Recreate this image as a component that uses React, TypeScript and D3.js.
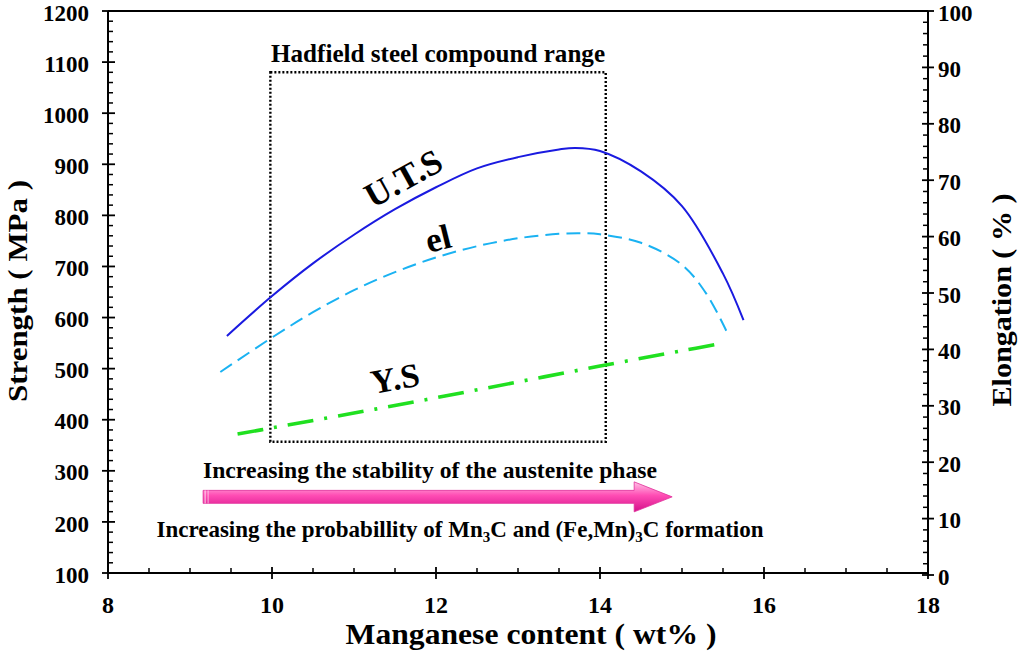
import React from "react";
import * as d3 from "d3";

// Manganese content (wt%) and measured properties
const mnUts = [9.45, 10, 10.5, 11, 11.5, 12, 12.5, 13, 13.5, 13.7, 14, 14.5, 15, 15.5, 15.75];
const utsValues = [564, 642, 706, 762, 812, 855, 892, 914, 929, 932, 926, 886, 818, 686, 595];

const mnEl = [9.37, 10, 10.5, 11, 11.5, 12, 12.5, 13, 13.5, 13.8, 14, 14.5, 15, 15.3, 15.54];
const elValues = [36.0, 42.1, 46.6, 50.5, 53.7, 56.3, 58.3, 59.7, 60.5, 60.6, 60.4, 58.9, 55.0, 49.8, 43.3];

const mnYs = [9.58, 10, 11, 12, 13, 14, 15, 15.5];
const ysValues = [372, 384, 413, 443, 474, 505, 535, 550];

// Hadfield steel composition window
const boxMn = [9.98, 14.07];
const boxStrength = [357, 1080];

const xTicks = [8, 10, 12, 14, 16, 18];
const leftTicks = [100, 200, 300, 400, 500, 600, 700, 800, 900, 1000, 1100, 1200];
const rightTicks = [0, 10, 20, 30, 40, 50, 60, 70, 80, 90, 100];

const FONT = "'Liberation Serif', 'Times New Roman', serif";

export default function App() {
  const left = 108, right = 928, top = 11, bottom = 573;
  const x = d3.scaleLinear().domain([8, 18]).range([left, right]);
  const yL = d3.scaleLinear().domain([100, 1200]).range([bottom, top]);
  const yR = d3.scaleLinear().domain([0, 100]).range([575, top]);

  const curve = d3.curveCatmullRom.alpha(0.5);
  const utsLine = d3.line<number>().x((_, i) => x(mnUts[i])).y((d) => yL(d)).curve(curve);
  const elLine = d3.line<number>().x((_, i) => x(mnEl[i])).y((d) => yR(d)).curve(curve);
  const ysLine = d3.line<number>().x((_, i) => x(mnYs[i])).y((d) => yL(d)).curve(curve);

  const leftMinor = d3.range(100, 1200.01, 20).filter((v) => v % 100 !== 0);
  const rightMinor = d3.range(0, 100.01, 2).filter((v) => v % 10 !== 0);
  const xMinor = d3.range(8, 18.01, 0.5).filter((v) => v % 2 !== 0);

  // arrow geometry
  const ax0 = x(9.16), ax1 = x(14.88), ay = yL(249);
  const headW = 38, headH = 30, shaftH = 13;

  return (
    <svg
      width={1020}
      height={654}
      style={{ position: "absolute", left: 0, top: 0, background: "#fff" }}
      fontFamily={FONT}
      fontWeight="bold"
    >
      <defs>
        <linearGradient id="pinkGrad" x1="0" y1="0" x2="0" y2="1">
          <stop offset="0%" stopColor="#ffc2e6" />
          <stop offset="45%" stopColor="#ff4db4" />
          <stop offset="100%" stopColor="#d4108a" />
        </linearGradient>
      </defs>

      {/* frame */}
      <line x1={left} x2={right} y1={top} y2={top} stroke="#000" strokeWidth={2} />
      <line x1={left} x2={right} y1={bottom} y2={bottom} stroke="#000" strokeWidth={2} />
      <line x1={left} x2={left} y1={top} y2={bottom} stroke="#000" strokeWidth={2} />
      <line x1={right} x2={right} y1={top} y2={575} stroke="#000" strokeWidth={2} />

      {/* left axis */}
      {leftTicks.map((v) => (
        <g key={"l" + v}>
          <line x1={left - 6} x2={left + 7} y1={yL(v)} y2={yL(v)} stroke="#000" strokeWidth={1.8} />
          <text x={left - 19} y={yL(v)} dy="0.42em" textAnchor="end" fontSize={23}>
            {v}
          </text>
        </g>
      ))}
      {leftMinor.map((v) => (
        <line key={"lm" + v} x1={left} x2={left + 5} y1={yL(v)} y2={yL(v)} stroke="#000" strokeWidth={1.5} />
      ))}

      {/* right axis */}
      {rightTicks.map((v) => (
        <g key={"r" + v}>
          <line x1={right - 6} x2={right + 6} y1={yR(v)} y2={yR(v)} stroke="#000" strokeWidth={1.8} />
          <text x={right + 10} y={yR(v)} dy="0.42em" textAnchor="start" fontSize={23}>
            {v}
          </text>
        </g>
      ))}
      {rightMinor.map((v) => (
        <line key={"rm" + v} x1={right - 5} x2={right} y1={yR(v)} y2={yR(v)} stroke="#000" strokeWidth={1.5} />
      ))}

      {/* bottom axis */}
      {xTicks.map((v) => (
        <g key={"x" + v}>
          <line x1={x(v)} x2={x(v)} y1={bottom - 6} y2={bottom + 6} stroke="#000" strokeWidth={1.8} />
          <text x={x(v)} y={bottom + 40} textAnchor="middle" fontSize={24}>
            {v}
          </text>
        </g>
      ))}
      {xMinor.map((v) => (
        <line key={"xm" + v} x1={x(v)} x2={x(v)} y1={bottom - 5} y2={bottom} stroke="#000" strokeWidth={1.5} />
      ))}

      {/* axis titles */}
      <text x={531} y={644} textAnchor="middle" fontSize={30} textLength={371} lengthAdjust="spacingAndGlyphs">
        Manganese content ( wt% )
      </text>
      <text
        transform="translate(27,291) rotate(-90)"
        textAnchor="middle"
        fontSize={28}
        textLength={222}
        lengthAdjust="spacingAndGlyphs"
      >
        Strength ( MPa )
      </text>
      <text
        transform="translate(1011,300) rotate(-90)"
        textAnchor="middle"
        fontSize={28}
        textLength={213}
        lengthAdjust="spacingAndGlyphs"
      >
        Elongation ( % )
      </text>

      {/* composition window */}
      <rect
        x={x(boxMn[0])}
        y={yL(boxStrength[1])}
        width={x(boxMn[1]) - x(boxMn[0])}
        height={yL(boxStrength[0]) - yL(boxStrength[1])}
        fill="none"
        stroke="#000"
        strokeWidth={2.4}
        strokeDasharray="2,2"
      />
      <text
        x={(x(boxMn[0]) + x(boxMn[1])) / 2}
        y={62}
        textAnchor="middle"
        fontSize={25}
        textLength={334}
        lengthAdjust="spacingAndGlyphs"
      >
        Hadfield steel compound range
      </text>

      {/* curves */}
      <path d={utsLine(utsValues) || ""} fill="none" stroke="#1a1ae0" strokeWidth={2} />
      <path d={elLine(elValues) || ""} fill="none" stroke="#1ab2f2" strokeWidth={2} strokeDasharray="14,7" />
      <path
        d={ysLine(ysValues) || ""}
        fill="none"
        stroke="#20e020"
        strokeWidth={3.6}
        strokeDasharray="26,11,3,11"
      />

      {/* curve labels */}
      <text transform="translate(403,178) rotate(-29)" textAnchor="middle" dy="0.35em" fontSize={35}>
        U.T.S
      </text>
      <text transform="translate(438,238) rotate(-14)" textAnchor="middle" dy="0.35em" fontSize={35}>
        el
      </text>
      <text transform="translate(395,378) rotate(-10)" textAnchor="middle" dy="0.35em" fontSize={34}>
        Y.S
      </text>

      {/* trend arrow */}
      <path
        d={`M${ax0},${ay - shaftH / 2} L${ax1 - headW},${ay - shaftH / 2} L${ax1 - headW},${ay - headH / 2} L${ax1},${ay} L${ax1 - headW},${ay + headH / 2} L${ax1 - headW},${ay + shaftH / 2} L${ax0},${ay + shaftH / 2} Z`}
        fill="url(#pinkGrad)"
        stroke="#e0309a"
        strokeWidth={0.8}
      />
      <line x1={ax0 + 2} x2={ax0 + 2} y1={ay - shaftH / 2} y2={ay + shaftH / 2} stroke="#fff" strokeWidth={1} opacity={0.8} />
      <line x1={ax0 + 5} x2={ax0 + 5} y1={ay - shaftH / 2} y2={ay + shaftH / 2} stroke="#fff" strokeWidth={1} opacity={0.6} />

      <text x={430} y={478} textAnchor="middle" fontSize={23} textLength={454} lengthAdjust="spacingAndGlyphs">
        Increasing the stability of the austenite phase
      </text>
      <text x={460} y={537} textAnchor="middle" fontSize={23}>
        Increasing the probabillity of Mn
        <tspan fontSize={15} dy={5}>3</tspan>
        <tspan dy={-5}>C and (Fe,Mn)</tspan>
        <tspan fontSize={15} dy={5}>3</tspan>
        <tspan dy={-5}>C formation</tspan>
      </text>
    </svg>
  );
}
